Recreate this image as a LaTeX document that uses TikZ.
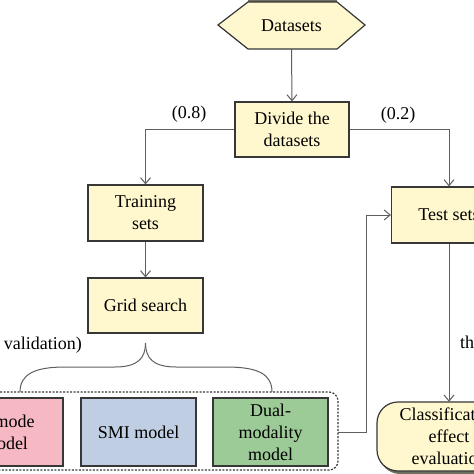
\documentclass[tikz,border=0pt]{standalone}
\usepackage{fontspec}
\setmainfont{Liberation Serif}
\usetikzlibrary{arrows.meta}
\definecolor{boxyellow}{RGB}{255,248,206}
\definecolor{boxpink}{RGB}{246,184,194}
\definecolor{boxblue}{RGB}{191,206,226}
\definecolor{boxgreen}{RGB}{157,203,152}
\definecolor{edgedark}{RGB}{55,55,55}
\definecolor{linegray}{RGB}{95,95,95}
\definecolor{shadowgray}{RGB}{110,110,95}
\tikzset{
  txt/.style={font=\fontsize{18}{22}\selectfont, text=black, align=center, inner sep=0pt},
  ybox/.style={txt, draw=edgedark, line width=1.2pt, fill=boxyellow, minimum width=115pt, minimum height=56pt},
  mbox/.style={txt, draw=edgedark, line width=1.5pt, minimum width=115pt, minimum height=68pt},
  conn/.style={draw=linegray, line width=1pt},
  arr/.style={conn, -{Straight Barb[length=6pt,width=10pt]}},
  lbl/.style={font=\fontsize{18}{22}\selectfont, inner sep=0pt}
}
\begin{document}
\begin{tikzpicture}[x=1pt,y=-1pt]
\useasboundingbox (0,0) rectangle (474,474);
\clip (0,0) rectangle (474,474);
\fill[white] (0,0) rectangle (474,474);

% hexagon Datasets
\fill[shadowgray] (248,-2) rectangle (337,3);
\draw[draw=edgedark, line width=1.2pt, fill=boxyellow]
  (218,25) -- (248,2) -- (337,2) -- (365,25) -- (337,49) -- (248,49) -- cycle;
\node[txt, minimum width=147pt, minimum height=47pt] (hex) at (291.5,25.5) {Datasets};

% yellow boxes
\node[ybox, minimum width=114pt, minimum height=55pt] (divide) at (292,129.5) {Divide the\\datasets};
\node[ybox] (training) at (145.5,213) {Training\\sets};
\node[ybox, minimum height=55pt] (grid) at (145.5,305.5) {Grid search};
\node[ybox] (test) at (449,215) {Test sets};

% dashed group and models
\draw[draw=edgedark, line width=1.2pt, dash pattern=on 2pt off 1.5pt, rounded corners=9pt]
  (-80,392) rectangle (338,470);
\coordinate (group) at (338,432);
\node[mbox, fill=boxpink] (bmode) at (5.5,432) {B-mode\\model};
\node[mbox, fill=boxblue] (smi) at (138.5,432) {SMI model};
\node[mbox, fill=boxgreen] (dual) at (270.5,432) {Dual-\\modality\\model};

% classification terminal
\fill[shadowgray, rounded corners=21pt] (379,405) rectangle (525,474);
\draw[draw=edgedark, line width=1.2pt, fill=boxyellow, rounded corners=21pt] (377,402) rectangle (521,471);
\node[txt, minimum width=144pt, minimum height=69pt] (class) at (449,436.5) {Classification\\effect\\evaluation};

% brace
\coordinate (bt) at (145.5,343);
\draw[conn] (20,392) .. controls (20,374) and (35,367) .. (65,367) -- (115,367)
  .. controls (138,367) and (145.5,358) .. (bt);
\draw[conn] (bt) .. controls (145.5,358) and (153,367) .. (176,367) -- (226,367)
  .. controls (258,367) and (272,374) .. (272,392);

% connectors
\draw[arr] (hex.south) -- (divide.north);
\draw[arr] (divide.west) -| (training.north);
\draw[arr] (divide.east) -| (test.north);
\draw[arr] (training.south) -- (grid.north);
\draw[arr] (group) -- ++(28,0) |- (test.west);
\draw[arr] (test.south) -- (class.north);

% labels
\node[lbl] (l08) at (189,114) {(0.8)};
\node[lbl] (l02) at (398,115) {(0.2)};
\node[lbl, anchor=east] (lval) at (82,345) {validation)};
\node[lbl, anchor=west] (lth) at (460,342) {th};
\end{tikzpicture}
\end{document}
